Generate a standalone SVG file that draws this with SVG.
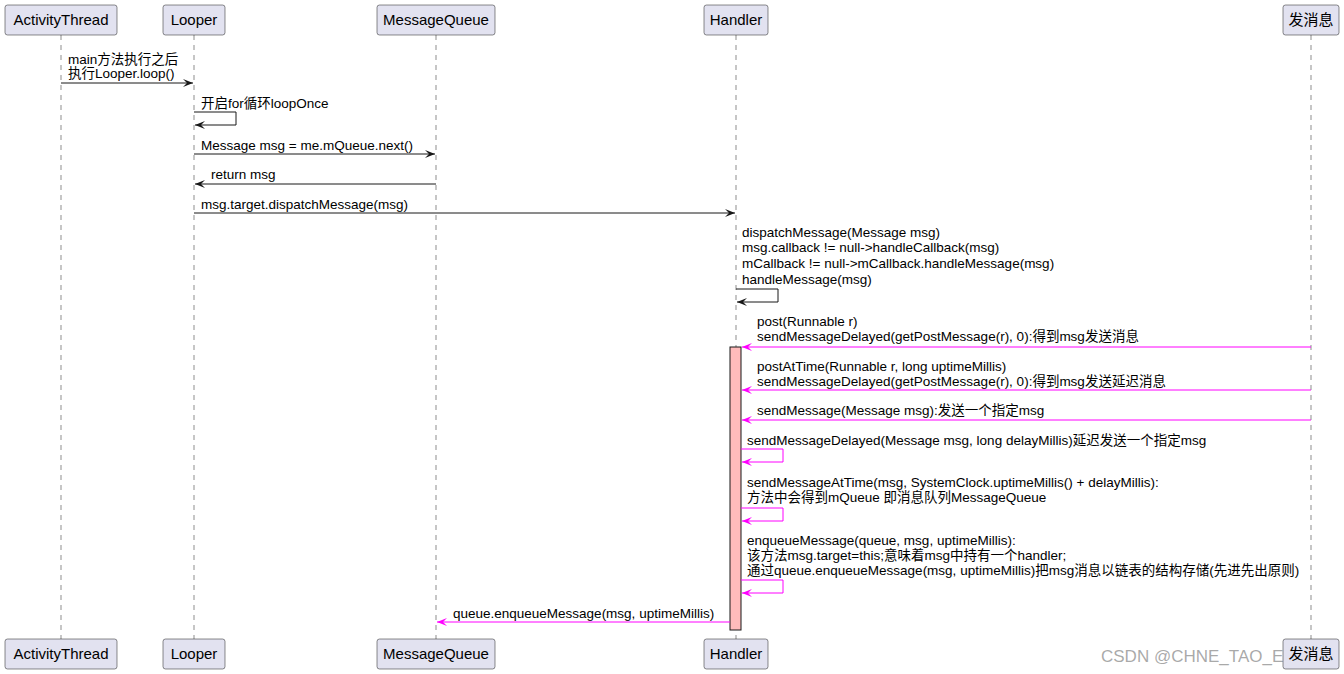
<svg xmlns="http://www.w3.org/2000/svg" width="1344" height="674" viewBox="0 0 1344 674">
<defs>
<marker id="ab" viewBox="0 0 10 8" refX="10" refY="4" markerWidth="10" markerHeight="8" markerUnits="userSpaceOnUse" orient="auto"><path d="M0,0 L10,4 L0,8 L4,4 Z" fill="#181818"/></marker>
<marker id="am" viewBox="0 0 10 8" refX="10" refY="4" markerWidth="10" markerHeight="8" markerUnits="userSpaceOnUse" orient="auto"><path d="M0,0 L10,4 L0,8 L4,4 Z" fill="#FF00FF"/></marker>
</defs>
<style>
.box{fill:#E2E2F0;stroke:#181818;stroke-width:0.5}
.pt{font-family:"Liberation Sans","Noto Sans CJK SC",sans-serif;font-size:15px;fill:#000;text-anchor:middle}
.life{stroke:#181818;stroke-width:0.5;stroke-dasharray:5,5;fill:none}
.t{font-family:"Liberation Sans","Noto Sans CJK SC",sans-serif;font-size:13.5px;fill:#000}
.k{stroke:#181818;stroke-width:1;fill:none;marker-end:url(#ab)}
.m{stroke:#FF00FF;stroke-width:1;fill:none;marker-end:url(#am)}
.wm{font-family:"Liberation Sans",sans-serif;font-size:17px;fill:#9a9a9a;fill-opacity:0.85}
</style>
<rect width="1344" height="674" fill="#FFFFFF"/>
<g id="lifelines">
<line class="life" x1="61" y1="35" x2="61" y2="639"/>
<line class="life" x1="194" y1="35" x2="194" y2="639"/>
<line class="life" x1="436" y1="35" x2="436" y2="639"/>
<line class="life" x1="736" y1="35" x2="736" y2="639"/>
<line class="life" x1="1311" y1="35" x2="1311" y2="639"/>
</g>
<g id="activation">
<rect x="730" y="347" width="11" height="283" fill="#FFBBBB" stroke="#181818" stroke-width="1"/>
</g>
<text class="wm" x="1101" y="662">CSDN @CHNE_TAO_E</text>
<g id="p-activitythread">
<rect class="box" x="5" y="5" width="112" height="30" rx="2.5"/><text class="pt" x="61" y="25">ActivityThread</text>
<rect class="box" x="5" y="639" width="112" height="30" rx="2.5"/><text class="pt" x="61" y="659">ActivityThread</text>
</g>
<g id="p-looper">
<rect class="box" x="163" y="5" width="62" height="30" rx="2.5"/><text class="pt" x="194" y="25">Looper</text>
<rect class="box" x="163" y="639" width="62" height="30" rx="2.5"/><text class="pt" x="194" y="659">Looper</text>
</g>
<g id="p-messagequeue">
<rect class="box" x="377" y="5" width="118" height="30" rx="2.5"/><text class="pt" x="436" y="25">MessageQueue</text>
<rect class="box" x="377" y="639" width="118" height="30" rx="2.5"/><text class="pt" x="436" y="659">MessageQueue</text>
</g>
<g id="p-handler">
<rect class="box" x="704" y="5" width="64" height="30" rx="2.5"/><text class="pt" x="736" y="25">Handler</text>
<rect class="box" x="704" y="639" width="64" height="30" rx="2.5"/><text class="pt" x="736" y="659">Handler</text>
</g>
<g id="p-send">
<rect class="box" x="1283" y="5" width="56" height="30" rx="2.5"/><text class="pt" x="1311" y="25">发消息</text>
<rect class="box" x="1283" y="639" width="56" height="30" rx="2.5"/><text class="pt" x="1311" y="659">发消息</text>
</g>
<g id="connectors">
<line class="k" x1="61" y1="83" x2="193" y2="83"/>
<text class="t" x="68" y="64">main方法执行之后</text>
<text class="t" x="68" y="78">执行Looper.loop()</text>

<polyline class="k" points="194,112 236,112 236,125 195,125"/>
<text class="t" x="201" y="108">开启for循环loopOnce</text>

<line class="k" x1="194" y1="154" x2="435" y2="154"/>
<text class="t" x="201" y="150">Message msg = me.mQueue.next()</text>

<line class="k" x1="436" y1="184" x2="195" y2="184"/>
<text class="t" x="211" y="179">return msg</text>

<line class="k" x1="194" y1="213" x2="735" y2="213"/>
<text class="t" x="201" y="209">msg.target.dispatchMessage(msg)</text>

<polyline class="k" points="736,289 778,289 778,302 737,302"/>
<text class="t" x="742" y="237">dispatchMessage(Message msg)</text>
<text class="t" x="742" y="252">msg.callback != null-&gt;handleCallback(msg)</text>
<text class="t" x="742" y="268">mCallback != null-&gt;mCallback.handleMessage(msg)</text>
<text class="t" x="742" y="284">handleMessage(msg)</text>

<line class="m" x1="1311" y1="347" x2="742" y2="347"/>
<text class="t" x="757" y="326">post(Runnable r)</text>
<text class="t" x="757" y="341">sendMessageDelayed(getPostMessage(r), 0):得到msg发送消息</text>

<line class="m" x1="1311" y1="390" x2="742" y2="390"/>
<text class="t" x="757" y="371">postAtTime(Runnable r, long uptimeMillis)</text>
<text class="t" x="757" y="386">sendMessageDelayed(getPostMessage(r), 0):得到msg发送延迟消息</text>

<line class="m" x1="1311" y1="420" x2="742" y2="420"/>
<text class="t" x="757" y="415">sendMessage(Message msg):发送一个指定msg</text>

<polyline class="m" points="741,449 783,449 783,462 742,462"/>
<text class="t" x="747" y="445">sendMessageDelayed(Message msg, long delayMillis)延迟发送一个指定msg</text>

<polyline class="m" points="741,508 783,508 783,521 742,521"/>
<text class="t" x="747" y="487">sendMessageAtTime(msg, SystemClock.uptimeMillis() + delayMillis):</text>
<text class="t" x="747" y="502">方法中会得到mQueue 即消息队列MessageQueue</text>

<polyline class="m" points="741,580 783,580 783,593 742,593"/>
<text class="t" x="747" y="545">enqueueMessage(queue, msg, uptimeMillis):</text>
<text class="t" x="747" y="560">该方法msg.target=this;意味着msg中持有一个handler;</text>
<text class="t" x="747" y="575">通过queue.enqueueMessage(msg, uptimeMillis)把msg消息以链表的结构存储(先进先出原则)</text>

<line class="m" x1="730" y1="622" x2="437" y2="622"/>
<text class="t" x="453" y="618">queue.enqueueMessage(msg, uptimeMillis)</text>
</g>
</svg>
